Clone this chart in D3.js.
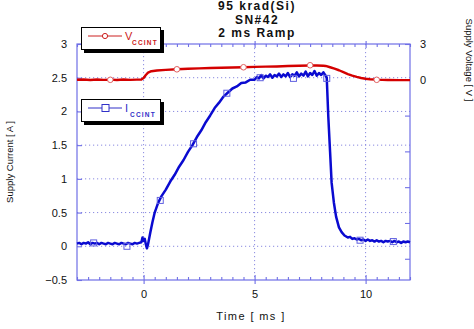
<!DOCTYPE html>
<html>
<head>
<meta charset="utf-8">
<script src="https://cdn.jsdelivr.net/npm/d3@7"></script>
<style>
  html, body { margin: 0; padding: 0; background: #fff; }
  svg { display: block; font-family: Arial, "Liberation Sans", Helvetica, sans-serif; }
</style>
</head>
<body>
<svg id="chart" width="474" height="329"></svg>
<script>
// ---- data ----
const titleLines = ["95 krad(Si)", "SN#42", "2 ms Ramp"];

// supply current trace, [time ms, current A]
const currentTrace = [
  [-3.0,0.04],[-2.9,0.05],[-2.8,0.03],[-2.7,0.05],[-2.6,0.04],[-2.5,0.06],[-2.4,0.03],[-2.3,0.05],
  [-2.2,0.04],[-2.1,0.05],[-2.0,0.03],[-1.9,0.05],[-1.8,0.04],[-1.7,0.03],[-1.6,0.05],[-1.5,0.04],
  [-1.4,0.03],[-1.3,0.05],[-1.2,0.04],[-1.1,0.03],[-1.0,0.05],[-0.9,0.04],[-0.8,0.03],[-0.7,0.05],
  [-0.6,0.04],[-0.5,0.03],[-0.4,0.05],[-0.3,0.04],[-0.2,0.05],[-0.1,0.06],
  [-0.05,0.13],[0.0,0.08],[0.05,0.11],[0.1,0.03],[0.15,-0.03],[0.2,0.03],
  [0.3,0.2],[0.4,0.36],[0.5,0.5],[0.65,0.64],[0.8,0.74],[1.0,0.84],[1.2,0.96],[1.4,1.06],
  [1.6,1.18],[1.8,1.28],[2.0,1.40],[2.2,1.50],[2.4,1.62],[2.6,1.72],[2.8,1.84],[3.0,1.94],
  [3.2,2.05],[3.4,2.13],[3.6,2.22],[3.8,2.28],[4.0,2.34],[4.2,2.37],[4.4,2.42],[4.6,2.43],
  [4.8,2.47],[5.0,2.47],[5.1,2.51],
  [5.2,2.49],[5.3,2.54],[5.4,2.49],[5.5,2.53],[5.6,2.51],[5.7,2.55],[5.8,2.50],[5.9,2.54],
  [6.0,2.52],[6.1,2.56],[6.2,2.51],[6.3,2.55],[6.4,2.52],[6.5,2.57],[6.6,2.51],[6.7,2.55],
  [6.8,2.53],[6.9,2.58],[7.0,2.52],[7.1,2.56],[7.2,2.53],[7.3,2.59],[7.4,2.52],[7.5,2.57],
  [7.6,2.54],[7.7,2.60],[7.8,2.53],[7.9,2.57],[8.0,2.54],[8.1,2.58],[8.2,2.53],
  [8.25,2.5],[8.32,1.92],[8.4,1.4],[8.47,0.94],[8.57,0.65],[8.67,0.44],[8.8,0.28],[8.92,0.21],
  [9.05,0.16],[9.2,0.13],[9.3,0.14],[9.4,0.11],[9.5,0.12],[9.6,0.10],[9.7,0.11],[9.8,0.09],
  [9.9,0.10],[10.0,0.08],[10.1,0.10],[10.2,0.08],[10.3,0.09],[10.4,0.07],[10.5,0.09],[10.6,0.07],
  [10.7,0.08],[10.8,0.06],[10.9,0.08],[11.0,0.07],[11.1,0.08],[11.2,0.06],[11.3,0.08],[11.4,0.06],
  [11.5,0.07],[11.6,0.05],[11.7,0.07],[11.8,0.06],[11.9,0.07],[12.0,0.06]
];
// sampled points shown with square markers
const currentMarkers = [
  [-2.25,0.05],[-0.75,0.0],[0.75,0.68],[2.25,1.52],[3.75,2.27],
  [5.25,2.5],[6.75,2.49],[8.25,2.49],[9.75,0.09],[11.25,0.07]
];

// supply voltage trace, [time ms, voltage V] (right axis)
const voltageTrace = [
  [-3.0,0.0],[-2.7,0.03],[-2.4,-0.02],[-2.1,0.02],[-1.8,-0.01],[-1.5,0.01],[-1.2,-0.02],[-0.9,0.02],
  [-0.6,-0.01],[-0.3,0.01],[-0.1,0.02],[0.0,0.15],[0.1,0.4],[0.2,0.6],[0.35,0.72],[0.6,0.78],
  [1.0,0.83],[1.5,0.88],[2.0,0.92],[2.5,0.96],[3.0,0.99],[3.5,1.01],[4.0,1.03],[4.5,1.05],
  [5.0,1.08],[5.5,1.1],[6.0,1.12],[6.5,1.15],[7.0,1.18],[7.5,1.2],[7.8,1.2],[8.1,1.18],
  [8.2,1.16],[8.4,1.05],[8.6,0.93],[8.8,0.8],[9.0,0.64],[9.2,0.48],[9.4,0.35],[9.6,0.24],
  [9.8,0.15],[10.0,0.09],[10.2,0.05],[10.5,0.01],[11.0,-0.02],[11.5,-0.03],[12.0,-0.03]
];
// sampled points shown with circle markers
const voltageMarkers = [[-1.5,0.0],[1.5,0.88],[4.5,1.05],[7.5,1.22],[10.5,0.0]];

const xTicks = [0, 5, 10];
const yLeftTicks = [-0.5, 0, 0.5, 1, 1.5, 2, 2.5, 3];
const yRightTicks = [3, 0, -3, -6, -9, -12, -15];
const yRightLabels = [3, 0];

// ---- layout ----
const svg = d3.select("#chart");
const L = 77, R = 410, T = 44, B = 280;
const axisColor = "#6f6fe6", gridColor = "#8a8ae0";
const redC = "#d40000", blueC = "#0a0ad0";

const x = d3.scaleLinear().domain([-3, 12]).range([L, R]);
const y = d3.scaleLinear().domain([-0.5, 3]).range([B, T]);
const y2 = d3.scaleLinear().domain([-16.78, 3]).range([B, T]);

// grid
const grid = svg.append("g").attr("stroke", gridColor).attr("stroke-width", 1)
  .attr("stroke-dasharray", "1.2,2.8");
xTicks.forEach(t => grid.append("line")
  .attr("x1", x(t)).attr("x2", x(t)).attr("y1", T).attr("y2", B));
yLeftTicks.filter(v => v > -0.5 && v < 3).forEach(v => grid.append("line")
  .attr("x1", L).attr("x2", R).attr("y1", y(v)).attr("y2", y(v)));

// frame
svg.append("rect").attr("x", L).attr("y", T).attr("width", R - L).attr("height", B - T)
  .attr("fill", "none").attr("stroke", axisColor).attr("stroke-width", 1.2);

// axes via d3-axis, ticks inward
const minorX = d3.range(-3, 12.01, 0.5).filter(v => !xTicks.includes(v));
function styleAxis(g) {
  g.select(".domain").remove();
  g.selectAll(".tick line").attr("stroke", axisColor).attr("stroke-width", 1.1);
  g.selectAll(".tick text").attr("fill", "#111").attr("font-size", 11);
}
svg.append("g").attr("transform", `translate(0,${B})`)
  .call(d3.axisBottom(x).tickValues(minorX).tickSize(-3).tickFormat(""))
  .call(styleAxis);
svg.append("g").attr("transform", `translate(0,${B + 4})`)
  .call(d3.axisBottom(x).tickValues(xTicks).tickSize(-9).tickPadding(6).tickFormat(d3.format("d")))
  .call(styleAxis);
svg.append("g").attr("transform", `translate(0,${T})`)
  .call(d3.axisTop(x).tickValues(minorX).tickSize(-3).tickFormat(""))
  .call(styleAxis);
svg.append("g").attr("transform", `translate(0,${T - 3})`)
  .call(d3.axisTop(x).tickValues(xTicks).tickSize(-7).tickFormat(""))
  .call(styleAxis);
svg.append("g").attr("transform", `translate(${L},0)`)
  .call(d3.axisLeft(y).tickValues(yLeftTicks).tickSize(-5).tickPadding(10).tickFormat(d3.format("")))
  .call(styleAxis);
svg.append("g").attr("transform", `translate(${R},0)`)
  .call(d3.axisRight(y2).tickValues(yRightTicks).tickSize(-5).tickPadding(10)
    .tickFormat(d => yRightLabels.includes(d) ? d : ""))
  .call(styleAxis);

// traces
const line = d3.line().x(d => x(d[0]));
svg.append("path").datum(voltageTrace)
  .attr("d", line.y(d => y2(d[1])))
  .attr("fill", "none").attr("stroke", redC).attr("stroke-width", 2.4).attr("stroke-linejoin", "round");
svg.append("path").datum(currentTrace)
  .attr("d", d3.line().x(d => x(d[0])).y(d => y(d[1])))
  .attr("fill", "none").attr("stroke", blueC).attr("stroke-width", 2.5).attr("stroke-linejoin", "round");

svg.append("g").selectAll("circle").data(voltageMarkers).join("circle")
  .attr("cx", d => x(d[0])).attr("cy", d => y2(d[1])).attr("r", 2.8)
  .attr("fill", "#fff").attr("stroke", "#e06060").attr("stroke-width", 1);
svg.append("g").selectAll("rect").data(currentMarkers).join("rect")
  .attr("x", d => x(d[0]) - 3).attr("y", d => y(d[1]) - 3).attr("width", 6).attr("height", 6)
  .attr("fill", "none").attr("stroke", "#6060e0").attr("stroke-width", 1);

// legends
function legendBox(top, color, markerKind, main, sub) {
  const g = svg.append("g");
  g.append("rect").attr("x", 84).attr("y", top + 3).attr("width", 80).attr("height", 23).attr("fill", "#000");
  g.append("rect").attr("x", 81.5).attr("y", top + 0.5).attr("width", 79).attr("height", 22)
    .attr("fill", "#fff").attr("stroke", "#000").attr("stroke-width", 1);
  const ly = top + 9;
  g.append("line").attr("x1", 88).attr("x2", 122).attr("y1", ly).attr("y2", ly)
    .attr("stroke", color).attr("stroke-width", 1);
  if (markerKind === "circle") {
    g.append("circle").attr("cx", 105).attr("cy", ly).attr("r", 2.6)
      .attr("fill", "#fff").attr("stroke", color).attr("stroke-width", 1);
  } else {
    g.append("rect").attr("x", 102).attr("y", ly - 3.5).attr("width", 7).attr("height", 7)
      .attr("fill", "#fff").attr("stroke", color).attr("stroke-width", 1);
  }
  g.append("text").attr("x", 125).attr("y", top + 13).attr("fill", color)
    .attr("font-size", 11).text(main);
  g.append("text").attr("x", main === "I" ? 130 : 132).attr("y", top + 18).attr("fill", color)
    .attr("font-size", 6.5).attr("font-weight", "bold").attr("letter-spacing", 1.2).text(sub);
}
legendBox(27, "#cc2020", "circle", "V", "CCINT");
legendBox(99, "#3030c8", "square", "I", "CCINT");

// titles
svg.append("g").selectAll("text").data(titleLines).join("text")
  .attr("x", 257).attr("y", (d, i) => 10 + i * 13.6)
  .attr("text-anchor", "middle").attr("font-size", 12).attr("font-weight", "bold")
  .attr("letter-spacing", 1.5).attr("fill", "#111").text(d => d);

// axis titles
svg.append("text").attr("x", 251).attr("y", 320).attr("text-anchor", "middle")
  .attr("font-size", 11).attr("letter-spacing", 1.4).attr("fill", "#111").text("Time  [ ms ]");
svg.append("text").attr("transform", "translate(13,162) rotate(-90)").attr("text-anchor", "middle")
  .attr("font-size", 9.5).attr("fill", "#111").text("Supply Current [ A ]");
svg.append("text").attr("transform", "translate(466,60) rotate(90)").attr("text-anchor", "middle")
  .attr("font-size", 9.5).attr("fill", "#111").text("Supply Voltage  [ V ]");
</script>
</body>
</html>
